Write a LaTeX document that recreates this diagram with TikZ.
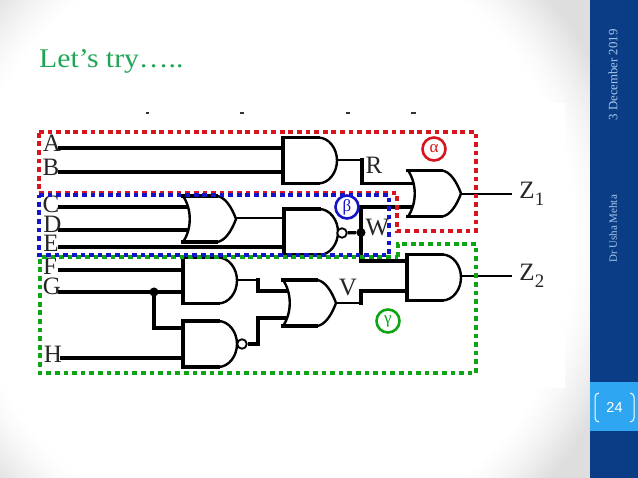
\documentclass[tikz,border=0pt]{standalone}
\usepackage{fontspec}
\setmainfont{Liberation Serif}
\newfontfamily\numfont{Liberation Sans}
\newfontfamily\titlefont[FakeStretch=1.10]{Liberation Serif}
\usetikzlibrary{calc}

\definecolor{barBlue}{HTML}{0A3D85}
\definecolor{tabBlue}{HTML}{2FA6F2}
\definecolor{sideText}{HTML}{A9C9EE}
\definecolor{titleGreen}{HTML}{1FA655}
\definecolor{boxRed}{HTML}{D8141E}
\definecolor{boxBlue}{HTML}{1414C8}
\definecolor{boxGreen}{HTML}{0EA514}
\definecolor{inkGrey}{HTML}{262626}

\begin{document}
\begin{tikzpicture}
[x=1pt,y=-1pt,
  wireDecorate/.style={line width=3.2pt,line cap=rect,black},%
  thinDecorate/.style={line width=2.6pt,black},%
  gateDecorate/.style={draw=black,line width=3.4pt,line cap=rect},%
  curveDecorate/.style={draw=black,line width=2.4pt},%
  jointDecorate/.style={shape=circle,fill=black,inner sep=0pt,minimum size=9pt},%
  bubbleDecorate/.style={shape=circle,draw=black,line width=1.8pt,fill=white,inner sep=0pt,minimum size=9.5pt},%
  letterDecorate/.style={inkGrey,font=\fontsize{25}{25}\selectfont,inner sep=0pt},%
  boxDecorate/.style={line width=4pt,dash pattern=on 4.7pt off 3.9pt},%
  ringDecorate/.style={shape=circle,line width=2.6pt,draw,minimum size=23pt,inner sep=0pt,font=\fontsize{17}{17}\selectfont},%
  sideDecorate/.style={sideText,rotate=90,inner sep=0pt},%
  andGate/.pic={
    \fill[white] (0,-23) -- (35,-23) .. controls (46,-23) and (54,-12) .. (54,0)
      .. controls (54,12) and (46,23) .. (35,23) -- (0,23) -- cycle;
    \draw[curveDecorate] (35,-23) .. controls (46,-23) and (54,-12) .. (54,0)
      .. controls (54,12) and (46,23) .. (35,23);
    \draw[gateDecorate] (35,-23) -- (0,-23) -- (0,23) -- (35,23);
  },%
  orGate/.pic={
    \fill[white] (0,-23) -- (33,-23) .. controls (42,-23) and (49,-11) .. (53,0)
      .. controls (49,11) and (42,23) .. (33,23) -- (0,23)
      .. controls (9,10) and (9,-10) .. (0,-23) -- cycle;
    \draw[curveDecorate] (33,-23) .. controls (42,-23) and (49,-11) .. (53,0)
      .. controls (49,11) and (42,23) .. (33,23);
    \draw[curveDecorate] (0,23) .. controls (9,10) and (9,-10) .. (0,-23);
    \draw[gateDecorate] (0,-23) -- (33,-23);
    \draw[gateDecorate] (0,23) -- (33,23);
  }]
\useasboundingbox (0,0) rectangle (638,478);
%% slide background, stacked circles
\begin{scope}
\clip (0,0) rectangle (590,478);
\fill[black!13] (0,0) rectangle (590,478);
\foreach \r in {370,367,...,307}
{
  \pgfmathsetmacro{\tone}{13*((\r-305)/65)^1.4}
  \fill[black!\tone!white] (271,239) circle [radius=\r pt];
}
\fill[white] (271,239) circle [radius=305pt];
\end{scope}
\fill[white] (20,103) rectangle (565,388);
\fill[barBlue] (590,0) rectangle (638,478);
\fill[tabBlue] (590,382) rectangle (638,431);
\draw[white,line width=1pt,rounded corners=4pt] (599,393) -- (595,393) -- (595,422) -- (599,422);
\draw[white,line width=1pt,rounded corners=4pt] (630,393) -- (634,393) -- (634,422) -- (630,422);
\node (pageno) at (614.5,407) [white,font=\numfont\fontsize{14.5}{15}\selectfont,inner sep=0pt] {24};
\node (datetext) at (613,75) [sideDecorate,font=\fontsize{12.8}{13}\selectfont] {3 December 2019};
\node (authortext) at (613,229) [sideDecorate,font=\fontsize{11}{11}\selectfont] {Dr Usha Mehta};
\node (title) at (39,61) [anchor=west,titleGreen,font=\titlefont\fontsize{27}{27}\selectfont,inner sep=0pt] {Let’s try…..};
%% cut off marks at the top of the figure
\foreach \x/\w in {147/3, 241.5/4, 348/4, 413/5}
{
  \fill[black!80] (\x-\w/2,112.5) rectangle (\x+\w/2,114.5);
}
%% wire ends
\foreach \nodename/\x/\y in {inA/60/148, inB/60/172, inC/60/207, inD/60/230, inE/60/247,
  inF/60/270, inG/60/292, inH/62/358, andAa/285/148, andAb/285/172, andAout/337/160,
  bendRa/362/160, bendRb/362/183.5, orAa/415/183.5, orBa/188/207, orBb/188/230,
  orBout/236/218, nandAa/285/218, nandAb/285/247, orAb/415/207, bendWa/361/207,
  bendWb/361/261, andBa/407/261, orAout/460/194, outZa/512/194, andBout/461/276,
  outZb/512/276, andCa/183/270, andCb/183/292, bendGa/154/328, nandBa/183/328,
  nandBb/183/358, andCout/237/280, bendVa/258/280, bendVb/258/291, orCa/288/291,
  bendUa/258/344, bendUb/258/318, orCb/288/318, orCout/336/303, bendXa/361/303,
  bendXb/361/291, andBb/407/291}
{
  \coordinate (\nodename) at (\x,\y);
}
%% junctions
\node (jointW) at (361,232.5) [jointDecorate] {};
\node (jointG) at (154,292) [jointDecorate] {};
%% edges or lines
\foreach \startnode/\endnode in {
  inA/andAa, inB/andAb, bendRa/bendRb, bendRb/orAa, inC/orBa, inD/orBb, inE/nandAb,
  bendWa/orAb, bendWa/bendWb, bendWb/andBa, inF/andCa, inG/andCb, jointG/bendGa,
  bendGa/nandBa, inH/nandBb, bendVa/bendVb, bendVb/orCa, bendUa/bendUb, bendUb/orCb,
  bendXa/bendXb, bendXb/andBb}
{
  \draw[wireDecorate] (\startnode) -- (\endnode);
}
\foreach \startnode/\endnode in {
  andAout/bendRa, orBout/nandAa, andCout/bendVa, orCout/bendXa, orAout/outZa, andBout/outZb}
{
  \draw[thinDecorate] (\startnode) -- (\endnode);
}
%% gates
\pic at (283,160.5) {andGate};
\pic at (284,232) {andGate};
\pic at (183,219) {orGate};
\pic at (408,193.5) {orGate};
\pic at (407,277.5) {andGate};
\pic at (283,303) {orGate};
\pic at (183,280.5) {andGate};
\pic at (183,344) {andGate};
\node (bubbleA) at (342,233) [bubbleDecorate] {};
\node (bubbleB) at (242,344) [bubbleDecorate] {};
\draw[wireDecorate,line cap=butt] (bubbleA) -- (jointW);
\draw[wireDecorate,line cap=butt] (bubbleB) -- (bendUa);
%% letters
\foreach \nodename/\x/\y in {A/52/143, B/51/167, C/51/204, D/52.5/224, E/51/243,
  F/50/266, G/52/286.5, H/53/354, R/374/165, W/377.5/228, V/348/288}
{
  \node (\nodename) at (\x,\y) [letterDecorate] {\nodename};
}
\node (zone) at (527,190) [letterDecorate] {Z};
\node (subone) at (539.5,199) [letterDecorate,font=\fontsize{19}{19}\selectfont] {1};
\node (ztwo) at (527,272) [letterDecorate] {Z};
\node (subtwo) at (539.5,281) [letterDecorate,font=\fontsize{19}{19}\selectfont] {2};
%% dotted outlines
\draw[boxDecorate,boxGreen] (398,257) -- (398,244) -- (476,244) -- (476,373) -- (40,373) -- (40,257) -- cycle;
\draw[boxDecorate,boxRed] (39,132) -- (476,132) -- (476,231) -- (397,231) -- (397,193) -- (39,193) -- cycle;
\draw[boxDecorate,boxBlue] (39,195) -- (389,195) -- (389,255) -- (39,255) -- cycle;
\node (alpha) at (434,149) [ringDecorate,boxRed] {α};
\node (beta) at (347,207) [ringDecorate,boxBlue] {β};
\node (gamma) at (388,321) [ringDecorate,boxGreen] {γ};
\end{tikzpicture}
\end{document}
